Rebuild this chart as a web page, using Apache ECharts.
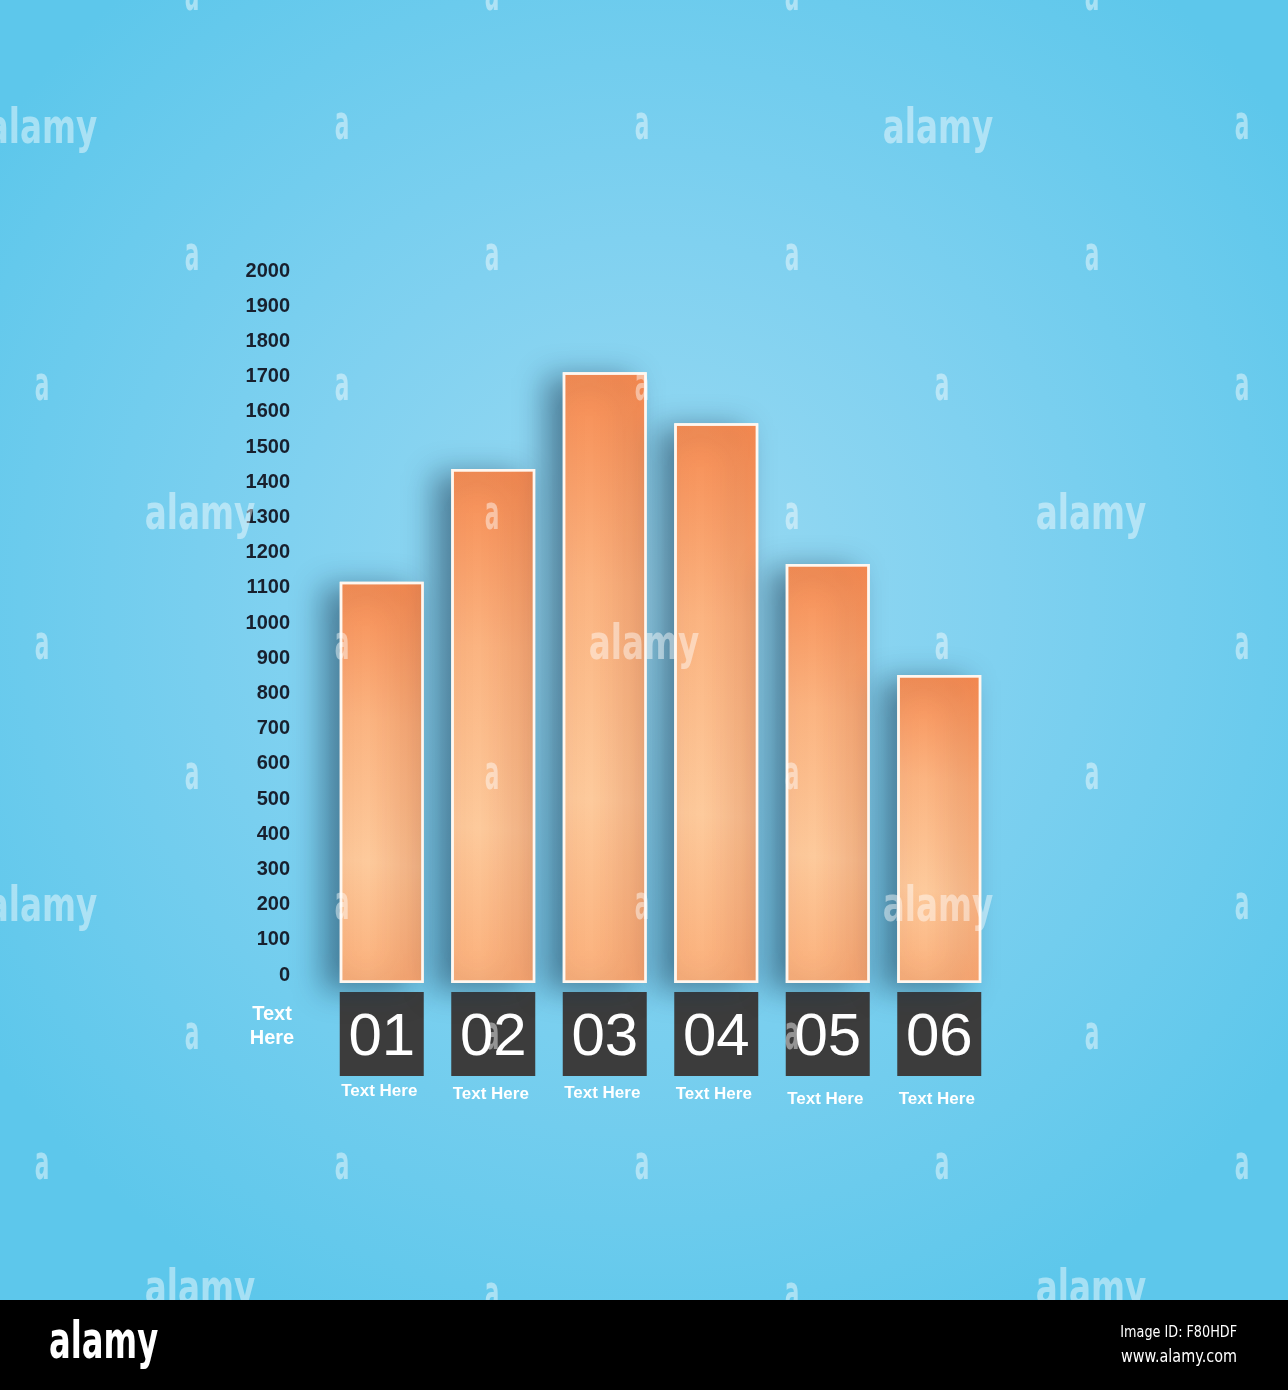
<!DOCTYPE html>
<html>
<head>
<meta charset="utf-8">
<script src="https://cdn.jsdelivr.net/npm/echarts@6/dist/echarts.min.js"></script>
<style>
  html, body { margin: 0; padding: 0; background: #000; }
  #chart { width: 1288px; height: 1390px; }
</style>
</head>
<body>
<div id="chart"></div>
<script>
// ---- data ----
const categories = ['01', '02', '03', '04', '05', '06'];
const values = [1140, 1460, 1735, 1590, 1190, 875];
const categoryNotes = ['Text Here', 'Text Here', 'Text Here', 'Text Here', 'Text Here', 'Text Here'];
const yMin = 0;
const yMax = 2000;
const yStep = 100;
const yAxisTitle = ['Text', 'Here'];
const footerLogo = 'alamy';
const footerId = 'Image ID: F80HDF';
const footerUrl = 'www.alamy.com';

// ---- decoration (watermark layout) ----
const wmWords = [[42,131],[938,131],[200,517],[1091,517],[644,647],[42,909],[938,909],[200,1292],[1091,1292]];
const wmLetters = [
  [192,-2],[492,-2],[792,-2],[1092,-2],
  [342,127],[642,127],[1242,127],
  [192,258],[492,258],[792,258],[1092,258],
  [42,388],[342,388],[642,388],[942,388],[1242,388],
  [492,517],[792,517],
  [42,647],[342,647],[942,647],[1242,647],
  [192,777],[492,777],[792,777],[1092,777],
  [342,907],[642,907],[1242,907],
  [192,1037],[492,1037],[792,1037],[1092,1037],
  [42,1167],[342,1167],[642,1167],[942,1167],[1242,1167],
  [492,1297],[792,1297]
];
const noteShift = [0, 6, 4, 6, 16, 16];

const chart = echarts.init(document.getElementById('chart'), null, { renderer: 'canvas' });

const wmFill = 'rgba(255,255,255,0.45)';
const wmFont = 'bold 48px "DejaVu Sans", sans-serif';
const graphics = [
  {
    type: 'rect', z: -10, silent: true,
    shape: { x: 0, y: 0, width: 1288, height: 1300 },
    style: {
      fill: {
        type: 'radial', x: 0.5, y: 0.46, r: 0.62, global: false,
        colorStops: [
          { offset: 0, color: '#9bdaf2' },
          { offset: 0.45, color: '#80d1f0' },
          { offset: 1, color: '#5dc7eb' }
        ]
      }
    }
  }
];
wmWords.forEach(p => graphics.push({
  type: 'text', z: 100, silent: true, x: p[0], y: p[1], scaleX: 0.68, scaleY: 1,
  style: { text: 'alamy', fill: wmFill, font: wmFont, align: 'center', verticalAlign: 'middle' }
}));
wmLetters.forEach(p => graphics.push({
  type: 'text', z: 100, silent: true, x: p[0], y: p[1], scaleX: 0.45, scaleY: 1,
  style: { text: 'a', fill: wmFill, font: wmFont, align: 'center', verticalAlign: 'middle' }
}));
graphics.push(
  { type: 'rect', z: 200, silent: true, shape: { x: 0, y: 1300, width: 1288, height: 90 }, style: { fill: '#000' } },
  { type: 'text', z: 201, silent: true, x: 49, y: 1344, scaleX: 0.62,
    style: { text: footerLogo, fill: '#fff', font: 'bold 52px "DejaVu Sans", sans-serif', align: 'left', verticalAlign: 'middle' } },
  { type: 'text', z: 201, silent: true, x: 1237, y: 1333, scaleX: 0.8,
    style: { text: footerId, fill: '#fff', font: '16px "DejaVu Sans", sans-serif', align: 'right', verticalAlign: 'middle' } },
  { type: 'text', z: 201, silent: true, x: 1237, y: 1357, scaleX: 0.8,
    style: { text: footerUrl, fill: '#fff', font: '18px "DejaVu Sans", sans-serif', align: 'right', verticalAlign: 'middle' } }
);

const noteRich = {};
noteShift.forEach((s, i) => {
  noteRich['t' + i] = {
    color: '#ffffff', fontSize: 17, fontWeight: 'bold', lineHeight: 20,
    fontFamily: '"Liberation Sans", Arial, sans-serif',
    padding: [s, 5, 0, 0]
  };
});

const option = {
  animation: false,
  backgroundColor: '#5dc7eb',
  grid: { left: 326, right: 293, top: 279, bottom: 407, containLabel: false },
  graphic: graphics,
  xAxis: [
    {
      type: 'category', data: categories, position: 'bottom',
      axisLine: { show: false }, axisTick: { show: false }, splitLine: { show: false },
      axisLabel: {
        interval: 0, margin: 13,
        formatter: v => '{b|' + v + '}',
        rich: {
          b: {
            backgroundColor: '#3c3c3c', color: '#ffffff',
            width: 84, height: 76, lineHeight: 76, align: 'center',
            padding: [8, 0, 0, 0],
            fontSize: 60, fontFamily: '"Liberation Sans", Arial, sans-serif'
          }
        }
      }
    },
    {
      type: 'category', data: categories, position: 'bottom',
      axisLine: { show: false }, axisTick: { show: false }, splitLine: { show: false },
      axisLabel: {
        interval: 0, margin: 98,
        formatter: (v, i) => '{t' + i + '|' + categoryNotes[i] + '}',
        rich: noteRich
      }
    }
  ],
  yAxis: {
    type: 'value', min: yMin, max: yMax, interval: yStep,
    axisLine: { show: false }, axisTick: { show: false }, splitLine: { show: false },
    name: yAxisTitle.map(t => '{a|' + t + '}').join('\n'),
    nameLocation: 'start', nameGap: 19,
    nameTextStyle: {
      align: 'right', verticalAlign: 'top', padding: [0, 30, 0, 0],
      rich: {
        a: { width: 48, align: 'center', color: '#ffffff', fontSize: 20, fontWeight: 'bold', lineHeight: 24,
             fontFamily: '"Liberation Sans", Arial, sans-serif' }
      }
    },
    axisLabel: {
      margin: 36, color: '#18202e', fontSize: 20, fontWeight: 'bold',
      fontFamily: '"Liberation Sans", Arial, sans-serif',
      verticalAlign: 'bottom', lineHeight: 16,
      formatter: v => String(v)
    }
  },
  series: [
    {
      type: 'bar', xAxisIndex: 0, data: values, barWidth: 84, z: 2,
      itemStyle: {
        color: {
          type: 'linear', x: 0.8, y: 0, x2: 0.3, y2: 1,
          colorStops: [
            { offset: 0, color: '#f68b52' },
            { offset: 0.35, color: '#fbb481' },
            { offset: 0.7, color: '#fdca9c' },
            { offset: 1, color: '#fbb07b' }
          ]
        },
        borderColor: '#fff7f0', borderWidth: 2.5,
        shadowColor: 'rgba(25,55,80,0.55)', shadowBlur: 30, shadowOffsetX: -16, shadowOffsetY: 6
      },
      emphasis: { disabled: true }
    },
    {
      type: 'bar', xAxisIndex: 0, data: values, barWidth: 84, barGap: '-100%', z: 3, silent: true,
      itemStyle: {
        color: {
          type: 'linear', x: 0, y: 0, x2: 1, y2: 0,
          colorStops: [
            { offset: 0, color: 'rgba(245,130,72,0.05)' },
            { offset: 0.35, color: 'rgba(245,130,72,0)' },
            { offset: 1, color: 'rgba(245,130,72,0.3)' }
          ]
        },
        borderColor: '#fff7f0', borderWidth: 2.5
      },
      emphasis: { disabled: true }
    }
  ]
};

chart.setOption(option);
</script>
</body>
</html>
